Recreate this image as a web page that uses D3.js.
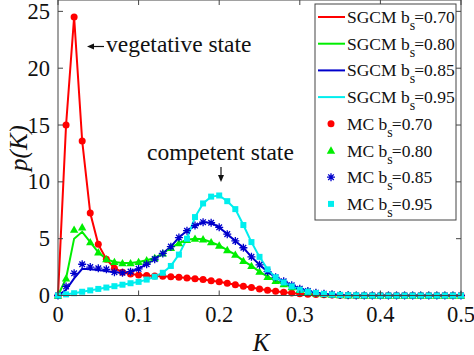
<!DOCTYPE html>
<html><head><meta charset="utf-8">
<script src="https://cdn.jsdelivr.net/npm/d3@7"></script>
<style>body{margin:0;background:#fff}svg{display:block}</style>
</head><body><svg id="c" width="474" height="355"></svg>
<script>
// K grid: 0 .. 0.5 step 0.01
const K = d3.range(51).map(i => +(i * 0.01).toFixed(2));
const tail = n => Array(n).fill(0);
// SGCM lines
const sgcm070 = [0,15,24.5,13.6,7.25,4.5,3.2,2.4,2.05,1.9,1.8,1.75,1.72,1.7,1.65,1.6,1.55,1.48,1.4,1.3,1.2,1.08,0.95,0.82,0.7,0.58,0.47,0.37,0.29,0.22,0.16,0.12,0.08,0.06,0.04,0.03,0.02,0.01, ...tail(13)];
const sgcm080 = [0,1.5,5.0,5.6,4.7,3.8,3.2,2.95,2.85,2.85,2.95,3.1,3.3,3.7,4.2,4.6,4.9,5.0,4.95,4.7,4.4,4.0,3.6,3.05,2.6,2.1,1.65,1.3,1.0,0.75,0.5,0.33,0.2,0.12,0.07,0.04,0.02,0.01, ...tail(13)];
const sgcm085 = [0,0.5,1.5,2.35,2.3,2.25,2.15,2.05,2.0,2.1,2.35,2.75,3.2,3.7,4.3,5.1,5.7,6.15,6.45,6.4,6.0,5.4,4.8,4.2,3.4,2.7,2.1,1.6,1.25,0.9,0.6,0.4,0.25,0.15,0.1,0.05,0.03,0.01, ...tail(13)];
const sgcm095 = [0,0.1,0.2,0.33,0.45,0.58,0.7,0.82,0.95,1.08,1.2,1.4,1.65,2.0,2.6,3.6,5.0,6.9,8.1,8.7,8.8,8.3,7.6,6.2,4.7,3.4,2.3,1.6,1.15,0.8,0.5,0.33,0.22,0.14,0.08,0.05,0.03,0.02,0.01, ...tail(12)];
// MC markers
const mc070 = sgcm070.slice();
const mc080 = [0,1.5,5.8,6.0].concat(sgcm080.slice(4));
const mc085 = [0,0.8,1.95,2.75,2.5,2.4,2.3].concat(sgcm085.slice(7));
const mc095 = sgcm095.slice();
const legendLabels = ["SGCM b","SGCM b","SGCM b","SGCM b","MC b","MC b","MC b","MC b"];
const legendValues = ["=0.70","=0.80","=0.85","=0.95","=0.70","=0.80","=0.85","=0.95"];
const xTicks = [0,0.1,0.2,0.3,0.4,0.5];
const yTicks = [0,5,10,15,20,25];
const colors = ["#ff0000","#00ee00","#0000cc","#00eeee"];

const FONT = "'Liberation Serif', serif";
const svg = d3.select("#c");
const x = d3.scaleLinear().domain([0,0.5]).range([58,461]);
const y = d3.scaleLinear().domain([0,26]).range([295.5,0]);
const axisCol = "#444";
function txt(g){return g.append("text").style("font-family",FONT).attr("fill","#111");}

// lines
const line = d3.line().x((d,i)=>x(K[i])).y(d=>y(d));
[sgcm070,sgcm080,sgcm085,sgcm095].forEach((s,j)=>{
  svg.append("path").attr("d",line(s)).attr("fill","none").attr("stroke",colors[j]).attr("stroke-width",2);
});

// marker drawers
function circle(g,cx,cy,c){g.append("circle").attr("cx",cx).attr("cy",cy).attr("r",3.5).attr("fill",c);}
function tri(g,cx,cy,c){const s=4.2;g.append("path").attr("d",`M${cx},${cy-s}L${cx+s},${cy+s*0.75}L${cx-s},${cy+s*0.75}Z`).attr("fill",c);}
function star(g,cx,cy,c){const s=4;let d="";[[s,0],[0,s],[s*0.7,s*0.7],[s*0.7,-s*0.7]].forEach(([a,b])=>{d+=`M${cx-a},${cy-b}L${cx+a},${cy+b}`;});g.append("path").attr("d",d).attr("stroke",c).attr("stroke-width",1.3).attr("fill","none");}
function square(g,cx,cy,c){g.append("rect").attr("x",cx-3).attr("y",cy-3).attr("width",6).attr("height",6).attr("fill",c);}
const drawers=[circle,tri,star,square];
[mc070,mc080,mc085,mc095].forEach((s,j)=>{
  const g=svg.append("g");
  s.forEach((v,i)=>drawers[j](g,x(K[i]),y(v),colors[j]));
});

// box + ticks
const bx0=x(0),bx1=x(0.5),by0=y(0),by1=y(26);
svg.append("rect").attr("x",bx0).attr("y",by1).attr("width",bx1-bx0).attr("height",by0-by1).attr("fill","none").attr("stroke",axisCol).attr("stroke-width",1);
xTicks.forEach(t=>{
  svg.append("line").attr("x1",x(t)).attr("x2",x(t)).attr("y1",by0).attr("y2",by0-5).attr("stroke",axisCol);
  svg.append("line").attr("x1",x(t)).attr("x2",x(t)).attr("y1",by1).attr("y2",by1+5).attr("stroke",axisCol);
  txt(svg).attr("x",x(t)).attr("y",322).attr("text-anchor","middle").attr("font-size",22.5).text(String(t));
});
yTicks.forEach(t=>{
  svg.append("line").attr("x1",bx0).attr("x2",bx0+5).attr("y1",y(t)).attr("y2",y(t)).attr("stroke",axisCol);
  svg.append("line").attr("x1",bx1).attr("x2",bx1-5).attr("y1",y(t)).attr("y2",y(t)).attr("stroke",axisCol);
  txt(svg).attr("x",50).attr("y",y(t)+7.5).attr("text-anchor","end").attr("font-size",22.5).text(t);
});

// axis labels
txt(svg).attr("x",261).attr("y",351).attr("text-anchor","middle").attr("font-size",25).attr("font-style","italic").text("K");
txt(svg).attr("transform","translate(27,148) rotate(-90)").attr("text-anchor","middle").attr("font-size",25).attr("font-style","italic").text("p(K)");

// annotations
txt(svg).attr("x",106).attr("y",52).attr("font-size",23.5).text("vegetative state");
svg.append("line").attr("x1",104).attr("x2",92).attr("y1",46.5).attr("y2",46.5).attr("stroke","#111").attr("stroke-width",1.2);
svg.append("path").attr("d","M87,46.5L94,43.5L94,49.5Z").attr("fill","#111");
txt(svg).attr("x",147).attr("y",160).attr("font-size",23.5).text("competent state");
svg.append("line").attr("x1",221).attr("x2",221).attr("y1",167).attr("y2",177).attr("stroke","#111").attr("stroke-width",1.2);
svg.append("path").attr("d","M221,182L218,175L224,175Z").attr("fill","#111");

// legend
const lg=svg.append("g");
lg.append("rect").attr("x",315).attr("y",4).attr("width",141).attr("height",216).attr("fill","#fff").attr("stroke",axisCol).attr("stroke-width",1);
legendLabels.forEach((lab,i)=>{
  const cy=17+i*26.7;
  if(i<4){lg.append("line").attr("x1",318).attr("x2",345).attr("y1",cy).attr("y2",cy).attr("stroke",colors[i]).attr("stroke-width",2);}
  else drawers[i-4](lg,331,cy,colors[i-4]);
  const t=txt(lg).attr("x",347).attr("y",cy+6).attr("font-size",17.5);
  t.append("tspan").text(lab);
  t.append("tspan").attr("font-size",14).attr("dy",7).text("s");
  t.append("tspan").attr("dy",-7).attr("dx",-1).text(legendValues[i]);
});
</script></body></html>
